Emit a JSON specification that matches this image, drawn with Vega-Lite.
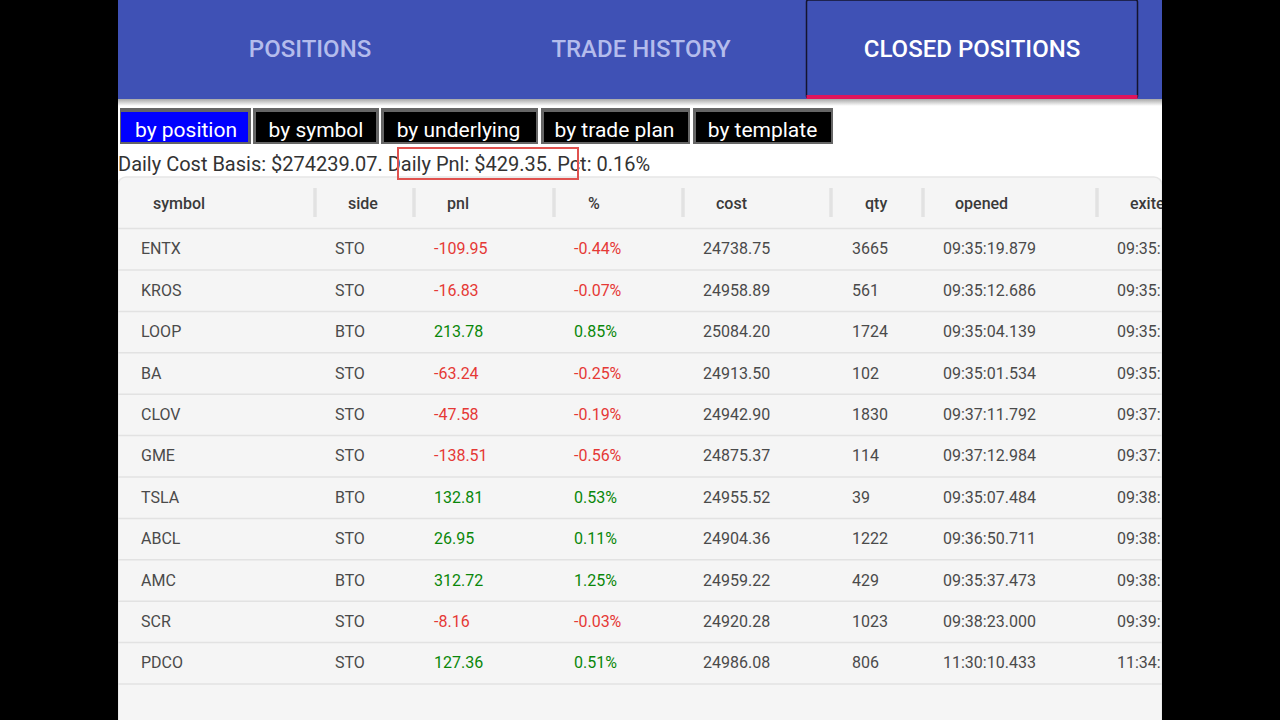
{"$schema":"https://vega.github.io/schema/vega-lite/v6.json","width":1044,"height":720,"autosize":"none","padding":{"left":118,"right":118,"top":0,"bottom":0},"background":"#000000","view":{"fill":"#ffffff","stroke":null},
"config":{"axis":{"disable":true},"legend":{"disable":true},"text":{"font":"Roboto"}},
"resolve":{"scale":{"x":"independent","y":"independent","color":"independent"}},
"datasets":{
"tabs":[{"tab":"POSITIONS","state":"idle"},{"tab":"TRADE HISTORY","state":"idle"},{"tab":"CLOSED POSITIONS","state":"active"}],
"buttons":[{"label":"by position","from":0,"to":1,"state":"selected"},{"label":"by symbol","from":2,"to":3,"state":"idle"},{"label":"by underlying","from":4,"to":5,"state":"idle"},{"label":"by trade plan","from":6,"to":7,"state":"idle"},{"label":"by template","from":8,"to":9,"state":"idle"}],
"headers":[{"col":1,"label":"symbol"},{"col":2,"label":"side"},{"col":3,"label":"pnl"},{"col":4,"label":"%"},{"col":5,"label":"cost"},{"col":6,"label":"qty"},{"col":7,"label":"opened"},{"col":8,"label":"exited"}],
"lines":[{"row":"header"},{"row":"ENTX"},{"row":"KROS"},{"row":"LOOP"},{"row":"BA"},{"row":"CLOV"},{"row":"GME"},{"row":"TSLA"},{"row":"ABCL"},{"row":"AMC"},{"row":"SCR"},{"row":"PDCO"}],
"cells":[
{"row":"ENTX","col":1,"text":"ENTX","tone":"plain"},{"row":"ENTX","col":2,"text":"STO","tone":"plain"},{"row":"ENTX","col":3,"text":"-109.95","tone":"loss"},{"row":"ENTX","col":4,"text":"-0.44%","tone":"loss"},{"row":"ENTX","col":5,"text":"24738.75","tone":"plain"},{"row":"ENTX","col":6,"text":"3665","tone":"plain"},{"row":"ENTX","col":7,"text":"09:35:19.879","tone":"plain"},{"row":"ENTX","col":8,"text":"09:35:","tone":"plain"},
{"row":"KROS","col":1,"text":"KROS","tone":"plain"},{"row":"KROS","col":2,"text":"STO","tone":"plain"},{"row":"KROS","col":3,"text":"-16.83","tone":"loss"},{"row":"KROS","col":4,"text":"-0.07%","tone":"loss"},{"row":"KROS","col":5,"text":"24958.89","tone":"plain"},{"row":"KROS","col":6,"text":"561","tone":"plain"},{"row":"KROS","col":7,"text":"09:35:12.686","tone":"plain"},{"row":"KROS","col":8,"text":"09:35:","tone":"plain"},
{"row":"LOOP","col":1,"text":"LOOP","tone":"plain"},{"row":"LOOP","col":2,"text":"BTO","tone":"plain"},{"row":"LOOP","col":3,"text":"213.78","tone":"gain"},{"row":"LOOP","col":4,"text":"0.85%","tone":"gain"},{"row":"LOOP","col":5,"text":"25084.20","tone":"plain"},{"row":"LOOP","col":6,"text":"1724","tone":"plain"},{"row":"LOOP","col":7,"text":"09:35:04.139","tone":"plain"},{"row":"LOOP","col":8,"text":"09:35:","tone":"plain"},
{"row":"BA","col":1,"text":"BA","tone":"plain"},{"row":"BA","col":2,"text":"STO","tone":"plain"},{"row":"BA","col":3,"text":"-63.24","tone":"loss"},{"row":"BA","col":4,"text":"-0.25%","tone":"loss"},{"row":"BA","col":5,"text":"24913.50","tone":"plain"},{"row":"BA","col":6,"text":"102","tone":"plain"},{"row":"BA","col":7,"text":"09:35:01.534","tone":"plain"},{"row":"BA","col":8,"text":"09:35:","tone":"plain"},
{"row":"CLOV","col":1,"text":"CLOV","tone":"plain"},{"row":"CLOV","col":2,"text":"STO","tone":"plain"},{"row":"CLOV","col":3,"text":"-47.58","tone":"loss"},{"row":"CLOV","col":4,"text":"-0.19%","tone":"loss"},{"row":"CLOV","col":5,"text":"24942.90","tone":"plain"},{"row":"CLOV","col":6,"text":"1830","tone":"plain"},{"row":"CLOV","col":7,"text":"09:37:11.792","tone":"plain"},{"row":"CLOV","col":8,"text":"09:37:","tone":"plain"},
{"row":"GME","col":1,"text":"GME","tone":"plain"},{"row":"GME","col":2,"text":"STO","tone":"plain"},{"row":"GME","col":3,"text":"-138.51","tone":"loss"},{"row":"GME","col":4,"text":"-0.56%","tone":"loss"},{"row":"GME","col":5,"text":"24875.37","tone":"plain"},{"row":"GME","col":6,"text":"114","tone":"plain"},{"row":"GME","col":7,"text":"09:37:12.984","tone":"plain"},{"row":"GME","col":8,"text":"09:37:","tone":"plain"},
{"row":"TSLA","col":1,"text":"TSLA","tone":"plain"},{"row":"TSLA","col":2,"text":"BTO","tone":"plain"},{"row":"TSLA","col":3,"text":"132.81","tone":"gain"},{"row":"TSLA","col":4,"text":"0.53%","tone":"gain"},{"row":"TSLA","col":5,"text":"24955.52","tone":"plain"},{"row":"TSLA","col":6,"text":"39","tone":"plain"},{"row":"TSLA","col":7,"text":"09:35:07.484","tone":"plain"},{"row":"TSLA","col":8,"text":"09:38:","tone":"plain"},
{"row":"ABCL","col":1,"text":"ABCL","tone":"plain"},{"row":"ABCL","col":2,"text":"STO","tone":"plain"},{"row":"ABCL","col":3,"text":"26.95","tone":"gain"},{"row":"ABCL","col":4,"text":"0.11%","tone":"gain"},{"row":"ABCL","col":5,"text":"24904.36","tone":"plain"},{"row":"ABCL","col":6,"text":"1222","tone":"plain"},{"row":"ABCL","col":7,"text":"09:36:50.711","tone":"plain"},{"row":"ABCL","col":8,"text":"09:38:","tone":"plain"},
{"row":"AMC","col":1,"text":"AMC","tone":"plain"},{"row":"AMC","col":2,"text":"BTO","tone":"plain"},{"row":"AMC","col":3,"text":"312.72","tone":"gain"},{"row":"AMC","col":4,"text":"1.25%","tone":"gain"},{"row":"AMC","col":5,"text":"24959.22","tone":"plain"},{"row":"AMC","col":6,"text":"429","tone":"plain"},{"row":"AMC","col":7,"text":"09:35:37.473","tone":"plain"},{"row":"AMC","col":8,"text":"09:38:","tone":"plain"},
{"row":"SCR","col":1,"text":"SCR","tone":"plain"},{"row":"SCR","col":2,"text":"STO","tone":"plain"},{"row":"SCR","col":3,"text":"-8.16","tone":"loss"},{"row":"SCR","col":4,"text":"-0.03%","tone":"loss"},{"row":"SCR","col":5,"text":"24920.28","tone":"plain"},{"row":"SCR","col":6,"text":"1023","tone":"plain"},{"row":"SCR","col":7,"text":"09:38:23.000","tone":"plain"},{"row":"SCR","col":8,"text":"09:39:","tone":"plain"},
{"row":"PDCO","col":1,"text":"PDCO","tone":"plain"},{"row":"PDCO","col":2,"text":"STO","tone":"plain"},{"row":"PDCO","col":3,"text":"127.36","tone":"gain"},{"row":"PDCO","col":4,"text":"0.51%","tone":"gain"},{"row":"PDCO","col":5,"text":"24986.08","tone":"plain"},{"row":"PDCO","col":6,"text":"806","tone":"plain"},{"row":"PDCO","col":7,"text":"11:30:10.433","tone":"plain"},{"row":"PDCO","col":8,"text":"11:34:","tone":"plain"}
]},
"layer":[
{"data":{"values":[{"part":"card"}]},"mark":{"type":"rect","fill":"#f5f5f5","stroke":"#e6e6e6","strokeWidth":1.5,"cornerRadius":8,"clip":true},"encoding":{"y":{"field":"part","type":"nominal","scale":{"range":[177,735],"paddingInner":0,"paddingOuter":0}}}},
{"data":{"values":[{"part":"shadow"}]},"mark":{"type":"rect","fill":{"gradient":"linear","x1":0,"y1":0,"x2":0,"y2":1,"stops":[{"offset":0,"color":"#a8a8a8"},{"offset":1,"color":"#ffffff"}]}},"encoding":{"y":{"field":"part","type":"nominal","scale":{"range":[99,106],"paddingInner":0,"paddingOuter":0}}}},
{"data":{"values":[{"part":"header"}]},"mark":{"type":"rect","fill":"#3f51b5"},"encoding":{"y":{"field":"part","type":"nominal","scale":{"range":[0,99],"paddingInner":0,"paddingOuter":0}}}},
{"data":{"name":"tabs"},"transform":[{"filter":"datum.state === 'active'"}],"mark":{"type":"rect","fill":"#3f51b5","stroke":"#14142e","strokeWidth":1.5,"cornerRadius":2},"encoding":{"x":{"field":"tab","type":"nominal","scale":{"domain":["POSITIONS","TRADE HISTORY","CLOSED POSITIONS"],"range":[26.5,1019.5],"paddingInner":0,"paddingOuter":0}},"y":{"field":"state","type":"nominal","scale":{"range":[0,98],"paddingInner":0,"paddingOuter":0}}}},
{"data":{"name":"tabs"},"transform":[{"filter":"datum.state === 'active'"}],"mark":{"type":"rect","fill":"#e0145c"},"encoding":{"x":{"field":"tab","type":"nominal","scale":{"domain":["POSITIONS","TRADE HISTORY","CLOSED POSITIONS"],"range":[26.5,1019.5],"paddingInner":0,"paddingOuter":0}},"y":{"field":"state","type":"nominal","scale":{"range":[95,99],"paddingInner":0,"paddingOuter":0}}}},
{"data":{"name":"tabs"},"mark":{"type":"text","fontSize":24,"fontWeight":500},"encoding":{"text":{"field":"tab"},"x":{"field":"tab","type":"nominal","scale":{"domain":["POSITIONS","TRADE HISTORY","CLOSED POSITIONS"],"range":[26.5,1019.5],"paddingInner":0,"paddingOuter":0}},"y":{"field":"part","type":"nominal","scale":{"range":[0,100],"paddingInner":0,"paddingOuter":0}},"color":{"field":"state","type":"nominal","scale":{"domain":["idle","active"],"range":["#b4bcec","#ffffff"]}}}},
{"data":{"name":"buttons"},"mark":{"type":"rect","fill":"#666666"},"encoding":{"x":{"field":"from","type":"quantitative","scale":{"domain":[0,1,2,3,4,5,6,7,8,9],"range":[2,133,135,261,263,420,423,572,575,715]}},"x2":{"field":"to"},"y":{"field":"kind","type":"nominal","scale":{"range":[108,144],"paddingInner":0,"paddingOuter":0}}}},
{"data":{"name":"buttons"},"mark":{"type":"rect"},"encoding":{"x":{"field":"from","type":"quantitative","scale":{"domain":[0,1,2,3,4,5,6,7,8,9],"range":[3,130,138,258,266,418,426,570,578,713]}},"x2":{"field":"to"},"y":{"field":"kind","type":"nominal","scale":{"range":[112,142],"paddingInner":0,"paddingOuter":0}},"color":{"field":"state","type":"nominal","scale":{"domain":["selected","idle"],"range":["#0000ff","#000000"]}}}},
{"data":{"name":"buttons"},"mark":{"type":"text","fontSize":21,"color":"#ffffff"},"encoding":{"text":{"field":"label"},"x":{"field":"from","type":"quantitative","scale":{"domain":[0,2,4,6,8],"range":[68,198,340.5,496.5,644.5]}},"y":{"field":"kind","type":"nominal","scale":{"range":[113,148],"paddingInner":0,"paddingOuter":0}}}},
{"data":{"values":[{"line":"status","text":"Daily Cost Basis: $274239.07. Daily Pnl: $429.35. Pct: 0.16%","start":0}]},"mark":{"type":"text","fontSize":20,"align":"left","color":"#333333"},"encoding":{"text":{"field":"text"},"x":{"field":"start","type":"quantitative","scale":{"domain":[0,1],"range":[0,1044]}},"y":{"field":"line","type":"nominal","scale":{"range":[149,180],"paddingInner":0,"paddingOuter":0}}}},
{"data":{"values":[{"part":"highlight","start":0,"end":1}]},"mark":{"type":"rect","fillOpacity":0,"stroke":"#e0524f","strokeWidth":2},"encoding":{"x":{"field":"start","type":"quantitative","scale":{"domain":[0,1],"range":[280,460]}},"x2":{"field":"end"},"y":{"field":"part","type":"nominal","scale":{"range":[148,179],"paddingInner":0,"paddingOuter":0}}}},
{"data":{"name":"headers"},"transform":[{"filter":"datum.col > 1"}],"mark":{"type":"tick","orient":"vertical","size":29,"thickness":3.5,"color":"#e2e2e2","opacity":1},"encoding":{"x":{"field":"col","type":"quantitative","scale":{"domain":[2,3,4,5,6,7,8],"range":[197,296,436,565,713,805,979]}},"y":{"field":"kind","type":"nominal","scale":{"range":[188,217],"paddingInner":0,"paddingOuter":0}}}},
{"data":{"name":"headers"},"mark":{"type":"text","fontSize":16,"fontWeight":500,"align":"left","color":"#3a3a3a","clip":true},"encoding":{"text":{"field":"label"},"x":{"field":"col","type":"quantitative","scale":{"domain":[1,2,3,4,5,6,7,8],"range":[35,230,329,470,598,747,837,1012]}},"y":{"field":"kind","type":"nominal","scale":{"range":[178,229],"paddingInner":0,"paddingOuter":0}}}},
{"data":{"name":"lines"},"mark":{"type":"rule","color":"#e2e2e2","strokeWidth":1.5},"encoding":{"y":{"field":"row","type":"nominal","bandPosition":1,"scale":{"domain":["header","ENTX","KROS","LOOP","BA","CLOV","GME","TSLA","ABCL","AMC","SCR","PDCO"],"range":[187.2,684],"paddingInner":0,"paddingOuter":0}}}},
{"data":{"name":"cells"},"mark":{"type":"text","fontSize":16,"align":"left","clip":true},"encoding":{"text":{"field":"text"},"x":{"field":"col","type":"quantitative","scale":{"domain":[1,2,3,4,5,6,7,8],"range":[23,217,316,456,585,734,825,999]}},"y":{"field":"row","type":"nominal","scale":{"domain":["ENTX","KROS","LOOP","BA","CLOV","GME","TSLA","ABCL","AMC","SCR","PDCO"],"range":[228.6,684],"paddingInner":0,"paddingOuter":0}},"color":{"field":"tone","type":"nominal","scale":{"domain":["plain","loss","gain"],"range":["#4a4a4a","#e53935","#0a870a"]}}}}
]}
